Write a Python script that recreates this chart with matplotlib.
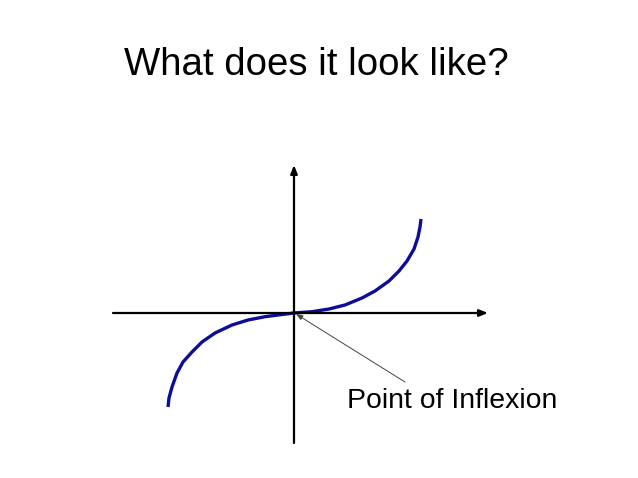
import matplotlib
matplotlib.use("Agg")
import matplotlib.pyplot as plt

# curve, origin at the point of inflexion
curve_x = [-126, -125, -122, -117, -111, -102, -92, -79, -62, -46, -29, -16, 0,
           18, 35, 51, 68, 81, 95, 105, 113, 120, 124, 126, 127]
curve_y = [-94, -85, -74, -60, -49, -39, -29, -20, -12, -7, -3.7, -2, 0,
           1.3, 4, 8, 15, 22, 32, 42, 52, 64, 76, 86, 94]

title = "What does it look like?"
label = "Point of Inflexion"

plt.rcParams['font.family'] = ['Liberation Sans', 'DejaVu Sans']

fig = plt.figure(figsize=(6.38, 4.78), dpi=100)
ax = fig.add_axes([0, 0, 1, 1])
ax.set_xlim(-294, 344)
ax.set_ylim(-165, 313)
ax.axis("off")

# axes with arrows
ax.annotate("", xy=(194, 0), xytext=(-181, 0),
            arrowprops=dict(arrowstyle="-|>,head_length=0.5,head_width=0.2", color="black", lw=1.6,
                            shrinkA=0, shrinkB=0))
ax.annotate("", xy=(0, 148), xytext=(0, -130),
            arrowprops=dict(arrowstyle="-|>,head_length=0.5,head_width=0.2", color="black", lw=1.6,
                            shrinkA=0, shrinkB=0))

ax.plot(curve_x, curve_y, color="#0d0d99", lw=2.4, solid_capstyle="butt", solid_joinstyle="round")

# pointer to inflexion
ax.annotate("", xy=(2, -1), xytext=(111, -69),
            arrowprops=dict(arrowstyle="-|>,head_length=0.4,head_width=0.15", color="#444444", lw=0.7,
                            shrinkA=0, shrinkB=0))
ax.text(53, -95, label, fontsize=20.4, ha="left", va="baseline")

ax.text(22, 238, title, fontsize=27.6, ha="center", va="baseline")

fig.savefig("out.png", dpi=100)
